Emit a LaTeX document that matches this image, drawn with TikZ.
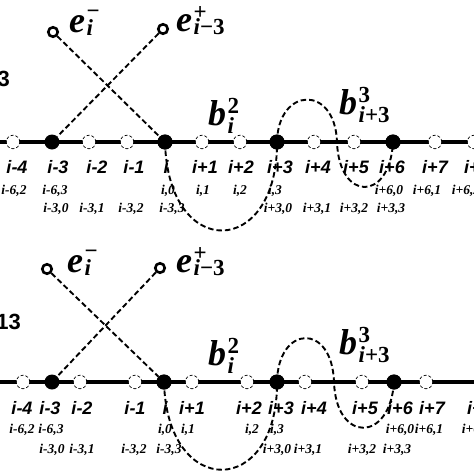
\documentclass[tikz,border=0pt]{standalone}
\usepackage{fontspec}
\setmainfont{Liberation Serif}
\newfontfamily\lsans{Liberation Sans}
\newcommand{\bsym}[5]{{\fontsize{36}{36}\selectfont\bfseries\itshape #1}\kern1.5pt\makebox[0pt][l]{\raisebox{#4}{\fontsize{23}{23}\selectfont\bfseries #2}}\raisebox{#5}{\fontsize{23}{23}\selectfont\bfseries #3}}
\begin{document}
\begin{tikzpicture}[x=1pt,y=-1pt,
  opn/.style={circle, draw, densely dashed, line width=0.7pt, fill=white, minimum size=13.5pt, inner sep=0pt},
  ful/.style={circle, fill=black, minimum size=15pt, inner sep=0pt},
  endpt/.style={circle, draw, line width=2.6pt, fill=white, minimum size=9.5pt, inner sep=0pt},
  conn/.style={line width=1.9pt, dash pattern=on 5.5pt off 3pt},
  mainline/.style={line width=4.5pt},
  lab/.style={font=\lsans\bfseries\itshape\fontsize{18}{18}\selectfont, inner sep=0pt},
  sub/.style={font=\bfseries\itshape\fontsize{13.5}{13.5}\selectfont, inner sep=0pt},
  mth/.style={inner sep=0pt, anchor=base west},
  side/.style={font=\lsans\bfseries\fontsize{22}{22}\selectfont, inner sep=0pt, anchor=east}]
\useasboundingbox (0,0) rectangle (474,474);
\fill[white] (0,0) rectangle (474,474);

% ================= TOP PANEL =================
\coordinate (TL) at (-5,142);
\coordinate (TR) at (480,142);
\draw[mainline] (TL) -- (TR);
\node[side] (t3) at (10,79) {3};

\node[opn] (a-4) at (13,142) {};
\node[ful] (a-3) at (52,142) {};
\node[opn] (a-2) at (89,142) {};
\node[opn] (a-1) at (127,142) {};
\node[ful] (a0) at (165,142) {};
\node[opn] (a1) at (202,142) {};
\node[opn] (a2) at (240,142) {};
\node[ful] (a3) at (277,142) {};
\node[opn] (a4) at (314,142) {};
\node[opn] (a5) at (354,142) {};
\node[ful] (a6) at (393,142) {};
\node[opn] (a7) at (435,142) {};
\node[opn] (a8) at (474,142) {};

\node[endpt] (ea) at (53,32) {};
\node[endpt] (eb) at (163,29) {};
\node[mth] (lea) at (69,32) {\bsym{e}{−}{\itshape i}{14pt}{-3pt}};
\node[mth] (leb) at (176,31) {\bsym{e}{+}{\itshape i\upshape −3}{12pt}{-3pt}};
\node[mth] (lba) at (208,125) {\bsym{b}{2}{\itshape i}{12pt}{-8pt}};
\node[mth] (lbb) at (339,114) {\bsym{b}{3}{\itshape i\upshape +3}{12pt}{-8pt}};

\draw[conn] (ea) -- (a0);
\draw[conn] (eb) -- (a-3);
\coordinate (ax) at (337,142);
\draw[conn] (a0.center) .. controls (168,262) and (278,258) .. (a3.center);
\draw[conn] (a3.center) .. controls (278,87) and (335,84) .. (ax) .. controls (339,202) and (390,202) .. (a6.center);
\fill (a0) circle (7.5pt);
\fill (a3) circle (7.5pt);
\fill (a6) circle (7.5pt);

\node[lab] (ta-4) at (17,167) {i-4};
\node[lab] (ta-3) at (58,167) {i-3};
\node[lab] (ta-2) at (97,167) {i-2};
\node[lab] (ta-1) at (134,167) {i-1};
\node[lab] (ta0) at (166,167) {i};
\node[lab] (ta1) at (205,167) {i+1};
\node[lab] (ta2) at (241,167) {i+2};
\node[lab] (ta3) at (280,167) {i+3};
\node[lab] (ta4) at (318,167) {i+4};
\node[lab] (ta5) at (356,167) {i+5};
\node[lab] (ta6) at (392,167) {i+6};
\node[lab] (ta7) at (435,167) {i+7};
\node[lab] (ta8) at (477,167) {i+8};

\node[sub] (sa1) at (14,191) {i-6,2};
\node[sub] (sa2) at (55,191) {i-6,3};
\node[sub] (sa3) at (168,191) {i,0};
\node[sub] (sa4) at (203,191) {i,1};
\node[sub] (sa5) at (240,191) {i,2};
\node[sub] (sa6) at (275,191) {i,3};
\node[sub] (sa7) at (389,191) {i+6,0};
\node[sub] (sa8) at (427,191) {i+6,1};
\node[sub] (sa9) at (466,191) {i+6,2};

\node[sub] (ra1) at (56,209) {i-3,0};
\node[sub] (ra2) at (92,209) {i-3,1};
\node[sub] (ra3) at (131,209) {i-3,2};
\node[sub] (ra4) at (172,209) {i-3,3};
\node[sub] (ra5) at (278,209) {i+3,0};
\node[sub] (ra6) at (317,209) {i+3,1};
\node[sub] (ra7) at (354,209) {i+3,2};
\node[sub] (ra8) at (391,209) {i+3,3};

% ================= BOTTOM PANEL =================
\coordinate (BL) at (-5,382);
\coordinate (BR) at (480,382);
\draw[mainline] (BL) -- (BR);
\node[side] (t13) at (21,322) {13};

\node[opn] (b-4) at (23,382) {};
\node[ful] (b-3) at (52,382) {};
\node[opn] (b-2) at (80,382) {};
\node[opn] (b-1) at (135,382) {};
\node[ful] (b0) at (164,382) {};
\node[opn] (b1) at (192,382) {};
\node[opn] (b2) at (247,382) {};
\node[ful] (b3) at (277,382) {};
\node[opn] (b4) at (305,382) {};
\node[opn] (b5) at (362,382) {};
\node[ful] (b6) at (394,382) {};
\node[opn] (b7) at (426,382) {};

\node[endpt] (fa) at (47,269) {};
\node[endpt] (fb) at (160,268) {};
\node[mth] (lfa) at (67,272) {\bsym{e}{−}{\itshape i}{14pt}{-3pt}};
\node[mth] (lfb) at (176,272) {\bsym{e}{+}{\itshape i\upshape −3}{12pt}{-3pt}};
\node[mth] (lca) at (208,365) {\bsym{b}{2}{\itshape i}{12pt}{-8pt}};
\node[mth] (lcb) at (339,354) {\bsym{b}{3}{\itshape i\upshape +3}{12pt}{-8pt}};

\draw[conn] (fa) -- (b0);
\draw[conn] (fb) -- (b-3);
\coordinate (bx) at (334,382);
\draw[conn] (b0.center) .. controls (167,500) and (278,498) .. (b3.center);
\draw[conn] (b3.center) .. controls (278,325) and (332,322) .. (bx) .. controls (336,443) and (390,443) .. (b6.center);
\fill (b0) circle (7.5pt);
\fill (b3) circle (7.5pt);
\fill (b6) circle (7.5pt);

\node[lab] (tb-4) at (22,408) {i-4};
\node[lab] (tb-3) at (50,408) {i-3};
\node[lab] (tb-2) at (82,408) {i-2};
\node[lab] (tb-1) at (135,408) {i-1};
\node[lab] (tb0) at (165,408) {i};
\node[lab] (tb1) at (192,408) {i+1};
\node[lab] (tb2) at (249,408) {i+2};
\node[lab] (tb3) at (281,408) {i+3};
\node[lab] (tb4) at (314,408) {i+4};
\node[lab] (tb5) at (365,408) {i+5};
\node[lab] (tb6) at (400,408) {i+6};
\node[lab] (tb7) at (432,408) {i+7};
\node[lab] (tb8) at (480,408) {i+8};

\node[sub] (sb1) at (22,430) {i-6,2};
\node[sub] (sb2) at (51,430) {i-6,3};
\node[sub] (sb3) at (165,430) {i,0};
\node[sub] (sb4) at (188,430) {i,1};
\node[sub] (sb5) at (252,430) {i,2};
\node[sub] (sb6) at (277,430) {i,3};
\node[sub] (sb7) at (400,430) {i+6,0};
\node[sub] (sb8) at (429,430) {i+6,1};
\node[sub] (sb9) at (476,430) {i+6,2};

\node[sub] (rb1) at (52,450) {i-3,0};
\node[sub] (rb2) at (82,450) {i-3,1};
\node[sub] (rb3) at (134,450) {i-3,2};
\node[sub] (rb4) at (169,450) {i-3,3};
\node[sub] (rb5) at (277,450) {i+3,0};
\node[sub] (rb6) at (308,450) {i+3,1};
\node[sub] (rb7) at (362,450) {i+3,2};
\node[sub] (rb8) at (397,450) {i+3,3};
\end{tikzpicture}
\end{document}
